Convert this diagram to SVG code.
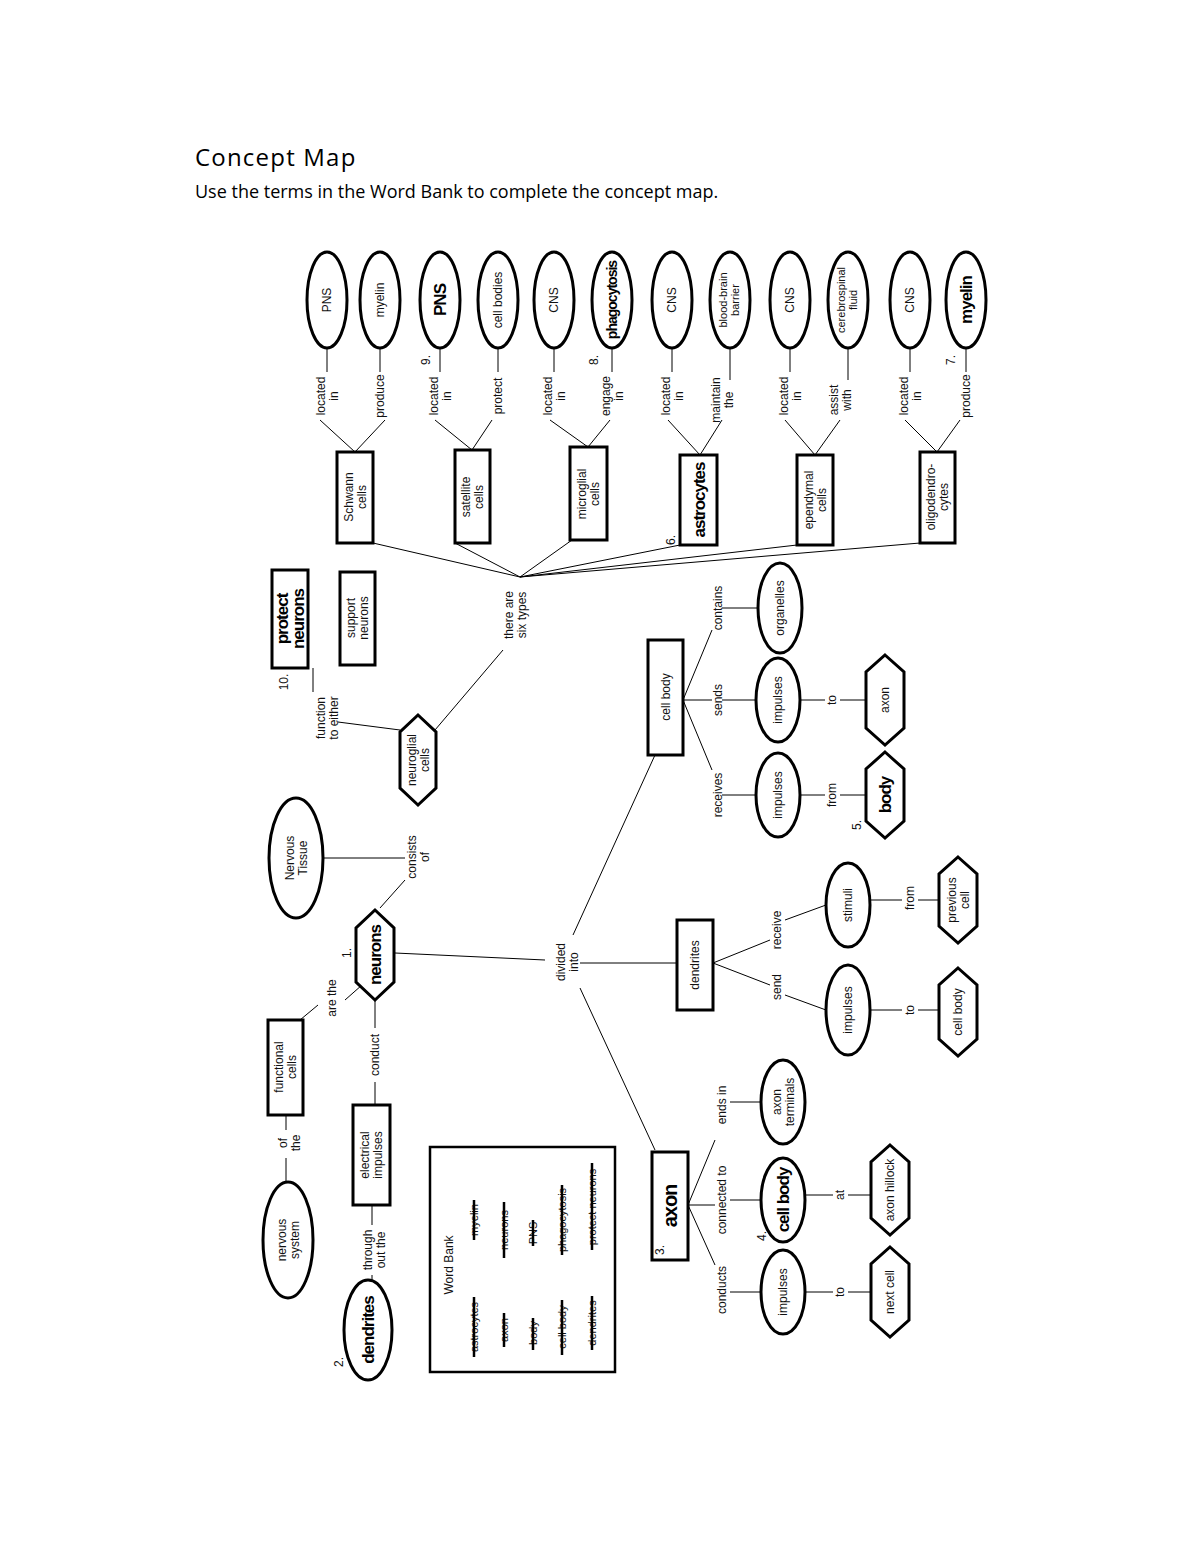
<svg xmlns="http://www.w3.org/2000/svg" width="1200" height="1553" viewBox="0 0 1200 1553">
<style>
.t{font-family:"Liberation Sans",Arial,sans-serif;font-size:12px;text-anchor:middle;fill:#111}
.h{font-family:"Liberation Sans",Arial,sans-serif;font-size:17px;font-weight:bold;text-anchor:middle;fill:#000;letter-spacing:-1px}
.s{font-family:"Liberation Sans",Arial,sans-serif;font-size:11px;text-anchor:middle;fill:#111}
.n{fill:#fff;stroke:#000;stroke-width:3}
.c line,.c polyline{stroke:#000;stroke-width:1;fill:none}
.x{stroke:#000;stroke-width:2.5}
</style>
<rect width="1200" height="1553" fill="#fff"/>
<text x="195" y="166" style="font-family:'Open Sans',sans-serif;font-size:24px;letter-spacing:1.2px">Concept Map</text>
<text x="195" y="198" style="font-family:'Open Sans',sans-serif;font-size:18px">Use the terms in the Word Bank to complete the concept map.</text>

<g class="c" id="connectors">
<line x1="327" y1="348" x2="327" y2="372"/><line x1="380" y1="348" x2="380" y2="372"/>
<line x1="440" y1="348" x2="440" y2="372"/><line x1="498" y1="348" x2="498" y2="372"/>
<line x1="554" y1="348" x2="554" y2="372"/><line x1="612" y1="348" x2="612" y2="372"/>
<line x1="672" y1="348" x2="672" y2="372"/><line x1="730" y1="348" x2="730" y2="380"/>
<line x1="790" y1="348" x2="790" y2="372"/><line x1="848" y1="348" x2="848" y2="380"/>
<line x1="910" y1="348" x2="910" y2="372"/><line x1="966" y1="348" x2="966" y2="372"/>
<polyline points="320,420 355,452 385,420"/>
<polyline points="435,420 472,450 492,420"/>
<polyline points="550,420 588,447 610,420"/>
<polyline points="668,420 700,455 722,420"/>
<polyline points="785,420 815,455 840,420"/>
<polyline points="905,420 937,452 960,420"/>
<line x1="373" y1="543" x2="520" y2="577"/>
<line x1="455" y1="543" x2="520" y2="577"/>
<line x1="572" y1="540" x2="520" y2="577"/>
<line x1="680" y1="545" x2="520" y2="577"/>
<line x1="797" y1="545" x2="520" y2="577"/>
<line x1="920" y1="543" x2="520" y2="577"/>
<line x1="503" y1="650" x2="435" y2="730"/>
<line x1="400" y1="730" x2="338" y2="722"/>
<line x1="313" y1="692" x2="313" y2="668"/>
<line x1="323" y1="858" x2="405" y2="858"/>
<line x1="405" y1="880" x2="380" y2="908"/>
<line x1="395" y1="953" x2="545" y2="960"/>
<line x1="362" y1="985" x2="345" y2="1000"/>
<line x1="318" y1="1005" x2="300" y2="1020"/>
<line x1="286" y1="1115" x2="286" y2="1130"/>
<line x1="286" y1="1158" x2="286" y2="1182"/>
<line x1="375" y1="1000" x2="375" y2="1028"/>
<line x1="375" y1="1082" x2="375" y2="1105"/>
<line x1="372" y1="1205" x2="372" y2="1225"/>
<line x1="372" y1="1275" x2="372" y2="1280"/>
<line x1="573" y1="935" x2="655" y2="755"/>
<line x1="580" y1="963" x2="677" y2="963"/>
<line x1="580" y1="988" x2="655" y2="1150"/>
<line x1="683" y1="700" x2="712" y2="630"/>
<line x1="683" y1="700" x2="712" y2="700"/>
<line x1="683" y1="700" x2="712" y2="770"/>
<line x1="722" y1="608" x2="758" y2="608"/>
<line x1="722" y1="700" x2="756" y2="700"/>
<line x1="722" y1="795" x2="756" y2="795"/>
<line x1="800" y1="700" x2="825" y2="700"/><line x1="840" y1="700" x2="867" y2="700"/>
<line x1="800" y1="795" x2="825" y2="795"/><line x1="840" y1="795" x2="867" y2="795"/>
<line x1="713" y1="963" x2="770" y2="940"/>
<line x1="713" y1="963" x2="770" y2="985"/>
<line x1="785" y1="920" x2="826" y2="905"/>
<line x1="785" y1="995" x2="826" y2="1010"/>
<line x1="870" y1="900" x2="902" y2="900"/><line x1="918" y1="900" x2="940" y2="900"/>
<line x1="870" y1="1010" x2="902" y2="1010"/><line x1="918" y1="1010" x2="940" y2="1010"/>
<line x1="688" y1="1205" x2="715" y2="1140"/>
<line x1="688" y1="1205" x2="715" y2="1205"/>
<line x1="688" y1="1205" x2="715" y2="1265"/>
<line x1="730" y1="1102" x2="761" y2="1102"/>
<line x1="730" y1="1200" x2="761" y2="1200"/>
<line x1="730" y1="1292" x2="761" y2="1292"/>
<line x1="805" y1="1195" x2="833" y2="1195"/><line x1="848" y1="1195" x2="872" y2="1195"/>
<line x1="805" y1="1292" x2="833" y2="1292"/><line x1="848" y1="1292" x2="872" y2="1292"/>
</g>

<g id="e-pns1"><ellipse class="n" cx="327" cy="300" rx="20" ry="48"/><text class="t" transform="translate(331,300) rotate(-90)">PNS</text></g>
<g id="e-myelin1"><ellipse class="n" cx="380" cy="300" rx="20" ry="48"/><text class="t" transform="translate(384,300) rotate(-90)">myelin</text></g>
<g id="e-pns2"><ellipse class="n" cx="440" cy="300" rx="20" ry="48"/><text class="h" transform="translate(446,300) rotate(-90)">PNS</text><text class="t" transform="translate(430,360) rotate(-90)">9.</text></g>
<g id="e-cellbodies"><ellipse class="n" cx="498" cy="300" rx="20" ry="48"/><text class="t" transform="translate(502,300) rotate(-90)">cell bodies</text></g>
<g id="e-cns1"><ellipse class="n" cx="554" cy="300" rx="20" ry="48"/><text class="t" transform="translate(558,300) rotate(-90)">CNS</text></g>
<g id="e-phago"><ellipse class="n" cx="612" cy="300" rx="20" ry="48"/><text class="h" transform="translate(617,300) rotate(-90)" style="font-size:14px">phagocytosis</text><text class="t" transform="translate(598,360) rotate(-90)">8.</text></g>
<g id="e-cns2"><ellipse class="n" cx="672" cy="300" rx="20" ry="48"/><text class="t" transform="translate(676,300) rotate(-90)">CNS</text></g>
<g id="e-bbb"><ellipse class="n" cx="730" cy="300" rx="20" ry="48"/><text class="s" transform="translate(730,300) rotate(-90)"><tspan x="0" y="-3">blood-brain</tspan><tspan x="0" y="9">barrier</tspan></text></g>
<g id="e-cns3"><ellipse class="n" cx="790" cy="300" rx="20" ry="48"/><text class="t" transform="translate(794,300) rotate(-90)">CNS</text></g>
<g id="e-csf"><ellipse class="n" cx="848" cy="300" rx="20" ry="48"/><text class="s" transform="translate(848,300) rotate(-90)"><tspan x="0" y="-3">cerebrospinal</tspan><tspan x="0" y="9">fluid</tspan></text></g>
<g id="e-cns4"><ellipse class="n" cx="910" cy="300" rx="20" ry="48"/><text class="t" transform="translate(914,300) rotate(-90)">CNS</text></g>
<g id="e-myelin2"><ellipse class="n" cx="966" cy="300" rx="20" ry="48"/><text class="h" transform="translate(972,300) rotate(-90)">myelin</text><text class="t" transform="translate(955,360) rotate(-90)">7.</text></g>

<g id="labels-top">
<text class="t" transform="translate(327,396) rotate(-90)"><tspan x="0" y="-2">located</tspan><tspan x="0" y="11">in</tspan></text>
<text class="t" transform="translate(384,396) rotate(-90)">produce</text>
<text class="t" transform="translate(440,396) rotate(-90)"><tspan x="0" y="-2">located</tspan><tspan x="0" y="11">in</tspan></text>
<text class="t" transform="translate(502,396) rotate(-90)">protect</text>
<text class="t" transform="translate(554,396) rotate(-90)"><tspan x="0" y="-2">located</tspan><tspan x="0" y="11">in</tspan></text>
<text class="t" transform="translate(612,396) rotate(-90)"><tspan x="0" y="-2">engage</tspan><tspan x="0" y="11">in</tspan></text>
<text class="t" transform="translate(672,396) rotate(-90)"><tspan x="0" y="-2">located</tspan><tspan x="0" y="11">in</tspan></text>
<text class="t" transform="translate(722,400) rotate(-90)"><tspan x="0" y="-2">maintain</tspan><tspan x="0" y="11">the</tspan></text>
<text class="t" transform="translate(790,396) rotate(-90)"><tspan x="0" y="-2">located</tspan><tspan x="0" y="11">in</tspan></text>
<text class="t" transform="translate(840,400) rotate(-90)"><tspan x="0" y="-2">assist</tspan><tspan x="0" y="11">with</tspan></text>
<text class="t" transform="translate(910,396) rotate(-90)"><tspan x="0" y="-2">located</tspan><tspan x="0" y="11">in</tspan></text>
<text class="t" transform="translate(970,396) rotate(-90)">produce</text>
</g>

<g id="b-schwann"><rect class="n" x="337" y="452" width="36" height="91"/><text class="t" transform="translate(355,497) rotate(-90)"><tspan x="0" y="-2">Schwann</tspan><tspan x="0" y="11">cells</tspan></text></g>
<g id="b-satellite"><rect class="n" x="455" y="450" width="35" height="93"/><text class="t" transform="translate(472,497) rotate(-90)"><tspan x="0" y="-2">satellite</tspan><tspan x="0" y="11">cells</tspan></text></g>
<g id="b-microglial"><rect class="n" x="570" y="447" width="37" height="93"/><text class="t" transform="translate(588,494) rotate(-90)"><tspan x="0" y="-2">microglial</tspan><tspan x="0" y="11">cells</tspan></text></g>
<g id="b-astro"><rect class="n" x="680" y="455" width="37" height="90"/><text class="h" transform="translate(705,500) rotate(-90)">astrocytes</text><text class="t" transform="translate(675,540) rotate(-90)">6.</text></g>
<g id="b-ependymal"><rect class="n" x="797" y="455" width="36" height="90"/><text class="t" transform="translate(815,500) rotate(-90)"><tspan x="0" y="-2">ependymal</tspan><tspan x="0" y="11">cells</tspan></text></g>
<g id="b-oligo"><rect class="n" x="920" y="452" width="35" height="91"/><text class="t" transform="translate(937,497) rotate(-90)"><tspan x="0" y="-2">oligodendro-</tspan><tspan x="0" y="11">cytes</tspan></text></g>

<g id="hub"><text class="t" transform="translate(515,615) rotate(-90)"><tspan x="0" y="-2">there are</tspan><tspan x="0" y="11">six types</tspan></text></g>

<g id="neuroglial"><polygon class="n" points="418,715 436,732 436,788 418,805 400,788 400,732"/><text class="t" transform="translate(418,760) rotate(-90)"><tspan x="0" y="-2">neuroglial</tspan><tspan x="0" y="11">cells</tspan></text></g>
<g id="function"><text class="t" transform="translate(327,718) rotate(-90)"><tspan x="0" y="-2">function</tspan><tspan x="0" y="11">to either</tspan></text></g>
<g id="b-protect"><rect class="n" x="272" y="570" width="36" height="98"/><text class="h" transform="translate(290,619) rotate(-90)"><tspan x="0" y="-2">protect</tspan><tspan x="0" y="14">neurons</tspan></text><text class="t" transform="translate(288,682) rotate(-90)">10.</text></g>
<g id="b-support"><rect class="n" x="340" y="572" width="35" height="93"/><text class="t" transform="translate(357,618) rotate(-90)"><tspan x="0" y="-2">support</tspan><tspan x="0" y="11">neurons</tspan></text></g>

<g id="nervous-tissue"><ellipse class="n" cx="296" cy="858" rx="27" ry="60"/><text class="t" transform="translate(296,858) rotate(-90)"><tspan x="0" y="-2">Nervous</tspan><tspan x="0" y="11">Tissue</tspan></text></g>
<g id="consists"><text class="t" transform="translate(418,857) rotate(-90)"><tspan x="0" y="-2">consists</tspan><tspan x="0" y="11">of</tspan></text></g>
<g id="neurons"><polygon class="n" points="375,910 394,928 394,982 375,1000 356,982 356,928"/><text class="h" transform="translate(381,955) rotate(-90)">neurons</text><text class="t" transform="translate(351,953) rotate(-90)">1.</text></g>
<g id="divided"><text class="t" transform="translate(567,962) rotate(-90)"><tspan x="0" y="-2">divided</tspan><tspan x="0" y="11">into</tspan></text></g>
<g id="arethe"><text class="t" transform="translate(336,998) rotate(-90)">are the</text></g>
<g id="b-functional"><rect class="n" x="268" y="1020" width="35" height="95"/><text class="t" transform="translate(285,1067) rotate(-90)"><tspan x="0" y="-2">functional</tspan><tspan x="0" y="11">cells</tspan></text></g>
<g id="ofthe"><text class="t" transform="translate(289,1143) rotate(-90)"><tspan x="0" y="-2">of</tspan><tspan x="0" y="11">the</tspan></text></g>
<g id="nervous-system"><ellipse class="n" cx="288" cy="1240" rx="25" ry="58"/><text class="t" transform="translate(288,1240) rotate(-90)"><tspan x="0" y="-2">nervous</tspan><tspan x="0" y="11">system</tspan></text></g>
<g id="conduct"><text class="t" transform="translate(379,1055) rotate(-90)">conduct</text></g>
<g id="b-electrical"><rect class="n" x="353" y="1105" width="37" height="100"/><text class="t" transform="translate(371,1155) rotate(-90)"><tspan x="0" y="-2">electrical</tspan><tspan x="0" y="11">impulses</tspan></text></g>
<g id="throughout"><text class="t" transform="translate(374,1250) rotate(-90)"><tspan x="0" y="-2">through</tspan><tspan x="0" y="11">out the</tspan></text></g>
<g id="dendrites-e"><ellipse class="n" cx="368" cy="1330" rx="24" ry="50"/><text class="h" transform="translate(374,1330) rotate(-90)">dendrites</text><text class="t" transform="translate(343,1362) rotate(-90)">2.</text></g>

<g id="wordbank">
<rect x="430" y="1147" width="185" height="225" fill="#fff" stroke="#000" stroke-width="2.5"/>
<text class="t" transform="translate(453,1265) rotate(-90)">Word Bank</text>
<text class="s" transform="translate(478,1327) rotate(-90)">astrocytes</text>
<text class="s" transform="translate(478,1220) rotate(-90)">myelin</text>
<text class="s" transform="translate(508,1330) rotate(-90)">axon</text>
<text class="s" transform="translate(508,1230) rotate(-90)">neurons</text>
<text class="s" transform="translate(537,1333) rotate(-90)">body</text>
<text class="s" transform="translate(537,1233) rotate(-90)">PNS</text>
<text class="s" transform="translate(566,1327) rotate(-90)">cell body</text>
<text class="s" transform="translate(566,1220) rotate(-90)">phagocytosis</text>
<text class="s" transform="translate(596,1323) rotate(-90)">dendrites</text>
<text class="s" transform="translate(596,1207) rotate(-90)">protect neurons</text>
<g class="x">
<line x1="474" y1="1357" x2="474" y2="1297"/><line x1="474" y1="1240" x2="474" y2="1200"/>
<line x1="504" y1="1347" x2="504" y2="1313"/><line x1="504" y1="1258" x2="504" y2="1202"/>
<line x1="533" y1="1350" x2="533" y2="1318"/><line x1="533" y1="1246" x2="533" y2="1220"/>
<line x1="562" y1="1355" x2="562" y2="1300"/><line x1="562" y1="1255" x2="562" y2="1185"/>
<line x1="592" y1="1350" x2="592" y2="1296"/><line x1="592" y1="1250" x2="592" y2="1163"/>
</g>
</g>

<g id="b-cellbody"><rect class="n" x="648" y="640" width="35" height="115"/><text class="t" transform="translate(670,697) rotate(-90)">cell body</text></g>
<g id="l-cb"><text class="t" transform="translate(722,608) rotate(-90)">contains</text><text class="t" transform="translate(722,700) rotate(-90)">sends</text><text class="t" transform="translate(722,795) rotate(-90)">receives</text><text class="t" transform="translate(836,700) rotate(-90)">to</text><text class="t" transform="translate(836,795) rotate(-90)">from</text></g>
<g id="e-organelles"><ellipse class="n" cx="780" cy="608" rx="22" ry="45"/><text class="t" transform="translate(784,608) rotate(-90)">organelles</text></g>
<g id="e-imp1"><ellipse class="n" cx="778" cy="700" rx="22" ry="42"/><text class="t" transform="translate(782,700) rotate(-90)">impulses</text></g>
<g id="e-imp2"><ellipse class="n" cx="778" cy="795" rx="22" ry="42"/><text class="t" transform="translate(782,795) rotate(-90)">impulses</text></g>
<g id="h-axon"><polygon class="n" points="885,655 904,672 904,728 885,745 866,728 866,672"/><text class="t" transform="translate(889,700) rotate(-90)">axon</text></g>
<g id="h-body"><polygon class="n" points="885,752 904,769 904,821 885,838 866,821 866,769"/><text class="h" transform="translate(891,795) rotate(-90)">body</text><text class="t" transform="translate(861,825) rotate(-90)">5.</text></g>

<g id="b-dendrites"><rect class="n" x="677" y="920" width="36" height="90"/><text class="t" transform="translate(699,965) rotate(-90)">dendrites</text></g>
<g id="l-d"><text class="t" transform="translate(781,930) rotate(-90)">receive</text><text class="t" transform="translate(781,987) rotate(-90)">send</text><text class="t" transform="translate(914,898) rotate(-90)">from</text><text class="t" transform="translate(914,1010) rotate(-90)">to</text></g>
<g id="e-stimuli"><ellipse class="n" cx="848" cy="905" rx="22" ry="42"/><text class="t" transform="translate(852,905) rotate(-90)">stimuli</text></g>
<g id="e-imp3"><ellipse class="n" cx="848" cy="1010" rx="22" ry="45"/><text class="t" transform="translate(852,1010) rotate(-90)">impulses</text></g>
<g id="h-prev"><polygon class="n" points="958,857 977,874 977,926 958,943 939,926 939,874"/><text class="t" transform="translate(958,900) rotate(-90)"><tspan x="0" y="-2">previous</tspan><tspan x="0" y="11">cell</tspan></text></g>
<g id="h-cellbody"><polygon class="n" points="958,968 977,985 977,1039 958,1056 939,1039 939,985"/><text class="t" transform="translate(962,1012) rotate(-90)">cell  body</text></g>

<g id="b-axon"><rect class="n" x="652" y="1152" width="36" height="108"/><text class="h" transform="translate(677,1206) rotate(-90)" style="font-size:20px">axon</text><text class="t" transform="translate(664,1250) rotate(-90)">3.</text></g>
<g id="l-a"><text class="t" transform="translate(726,1105) rotate(-90)">ends in</text><text class="t" transform="translate(726,1200) rotate(-90)">connected to</text><text class="t" transform="translate(726,1290) rotate(-90)">conducts</text><text class="t" transform="translate(844,1195) rotate(-90)">at</text><text class="t" transform="translate(844,1292) rotate(-90)">to</text></g>
<g id="e-terminals"><ellipse class="n" cx="783" cy="1102" rx="22" ry="42"/><text class="t" transform="translate(783,1102) rotate(-90)"><tspan x="0" y="-2">axon</tspan><tspan x="0" y="11">terminals</tspan></text></g>
<g id="e-cellbody2"><ellipse class="n" cx="783" cy="1200" rx="22" ry="42"/><text class="h" transform="translate(789,1200) rotate(-90)">cell body</text><text class="t" transform="translate(766,1236) rotate(-90)">4.</text></g>
<g id="e-imp4"><ellipse class="n" cx="783" cy="1292" rx="22" ry="42"/><text class="t" transform="translate(787,1292) rotate(-90)">impulses</text></g>
<g id="h-hillock"><polygon class="n" points="890,1145 909,1162 909,1218 890,1235 871,1218 871,1162"/><text class="t" transform="translate(894,1190) rotate(-90)">axon hillock</text></g>
<g id="h-next"><polygon class="n" points="890,1247 909,1264 909,1320 890,1337 871,1320 871,1264"/><text class="t" transform="translate(894,1292) rotate(-90)">next cell</text></g>
</svg>
